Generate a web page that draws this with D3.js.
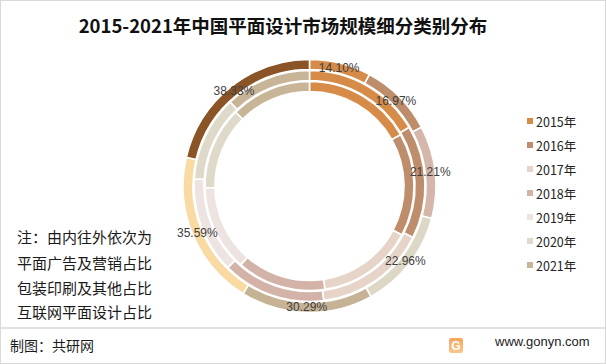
<!DOCTYPE html>
<html>
<head>
<meta charset="utf-8">
<script src="https://cdn.jsdelivr.net/npm/d3@7/dist/d3.min.js"></script>
<style>
  html, body { margin: 0; padding: 0; background: #fff; }
  svg { display: block; }
</style>
</head>
<body>
<svg id="chart" width="606" height="364"></svg>
<script>
// ---- data ----
const years = ["2015年", "2016年", "2017年", "2018年", "2019年", "2020年", "2021年"];
const adValues = [43.8, 41.4, 38.7, 35.8, 34.7, 33.2, 32.5];
const packValues = [43.0, 41.1, 40.8, 37.6, 35.1, 31.1, 31.3];
// outer ring: 互联网平面设计占比 (labelled)
const webValues = [14.10, 16.97, 21.21, 22.96, 30.29, 35.59, 38.33];
const legendColors = ["#D68B48", "#BE8E6C", "#E5D4C7", "#D3B3A8", "#EDE4E1", "#DED9C8", "#C8B598"];
const outerColors = ["#D68B48", "#BE8E6C", "#D4B6AB", "#DDD8C6", "#C6B295", "#F8DAA2", "#8B5426"];
const noteLines = ["注：由内往外依次为", "平面广告及营销占比", "包装印刷及其他占比", "互联网平面设计占比"];

const svg = d3.select("#chart");
const W = 606, H = 364;
const cjk = "'Noto Sans CJK SC', 'Noto Sans', sans-serif";

// frame
svg.append("rect").attr("x", 0.5).attr("y", 0.5).attr("width", W - 1).attr("height", H - 1)
  .attr("fill", "#fff").attr("stroke", "#d9d9d9");
svg.append("line").attr("x1", 1).attr("x2", W - 1).attr("y1", 328).attr("y2", 328)
  .attr("stroke", "#e3e3e3").attr("stroke-width", 2);

// title
svg.append("text").attr("x", 283).attr("y", 25).attr("text-anchor", "middle")
  .attr("dominant-baseline", "central")
  .attr("font-family", cjk).attr("font-weight", 700).attr("font-size", 18.5)
  .attr("fill", "#111").text("2015-2021年中国平面设计市场规模细分类别分布");

// donut
const cx = 309.5, cy = 186;
const g = svg.append("g").attr("transform", `translate(${cx},${cy})`);
const pie = d3.pie().sort(null).value(d => d).startAngle(0).endAngle(2 * Math.PI);

const rings = [
  { values: adValues, r0: 94.5, r1: 104.5, colors: legendColors },
  { values: packValues, r0: 105.5, r1: 115.5, colors: legendColors },
  { values: webValues, r0: 116.5, r1: 126.5, colors: outerColors }
];
rings.forEach((ring, ri) => {
  const arc = d3.arc().innerRadius(ring.r0).outerRadius(ring.r1);
  g.append("g").selectAll("path").data(pie(ring.values)).join("path")
    .attr("d", arc)
    .attr("fill", (d, i) => ring.colors[i])
    .attr("stroke", "#fff").attr("stroke-width", 1.6);
});

// labels on outer ring
const outer = rings[2];
const labelArc = d3.arc().innerRadius(121.5).outerRadius(121.5);
g.append("g").selectAll("text").data(pie(webValues)).join("text")
  .attr("transform", d => `translate(${labelArc.centroid(d)})`)
  .attr("text-anchor", "middle").attr("dominant-baseline", "central")
  .attr("font-family", "'Liberation Sans', Arial, sans-serif").attr("font-size", 12)
  .attr("fill", "#404040")
  .text(d => d.data.toFixed(2) + "%");

// legend
const leg = svg.append("g");
const ly = d3.scalePoint().domain(years).range([121, 265]);
years.forEach((y, i) => {
  leg.append("rect").attr("x", 527).attr("y", ly(y) - 3).attr("width", 6).attr("height", 6)
    .attr("fill", legendColors[i]);
  leg.append("text").attr("x", 536).attr("y", ly(y)).attr("dominant-baseline", "central")
    .attr("font-family", cjk).attr("font-size", 12.5).attr("fill", "#222").text(y);
});

// note
const ny = [236, 262.5, 287.5, 311];
noteLines.forEach((t, i) => {
  svg.append("text").attr("x", 17).attr("y", ny[i]).attr("dominant-baseline", "central")
    .attr("font-family", cjk).attr("font-size", 15).attr("fill", "#1a1a1a").text(t);
});

// footer
svg.append("text").attr("x", 10).attr("y", 345).attr("dominant-baseline", "central")
  .attr("font-family", cjk).attr("font-size", 14).attr("fill", "#1a1a1a").text("制图：共研网");
svg.append("text").attr("x", 495).attr("y", 341).attr("dominant-baseline", "central")
  .attr("font-family", "'Liberation Sans', Arial, sans-serif").attr("font-size", 13)
  .attr("fill", "#222").text("www.gonyn.com");
const defs = svg.append("defs");
const grad = defs.append("linearGradient").attr("id", "lg").attr("x1", 0).attr("y1", 0).attr("x2", 0).attr("y2", 1);
grad.append("stop").attr("offset", 0).attr("stop-color", "#F7A35C");
grad.append("stop").attr("offset", 1).attr("stop-color", "#FBC68A");
svg.append("rect").attr("x", 449).attr("y", 338).attr("width", 14).attr("height", 15).attr("rx", 2)
  .attr("fill", "url(#lg)");
svg.append("text").attr("x", 456).attr("y", 346).attr("text-anchor", "middle").attr("dominant-baseline", "central")
  .attr("font-family", "'Liberation Sans', Arial, sans-serif").attr("font-weight", 700).attr("font-size", 12)
  .attr("fill", "#fff").text("G");
</script>
</body>
</html>
